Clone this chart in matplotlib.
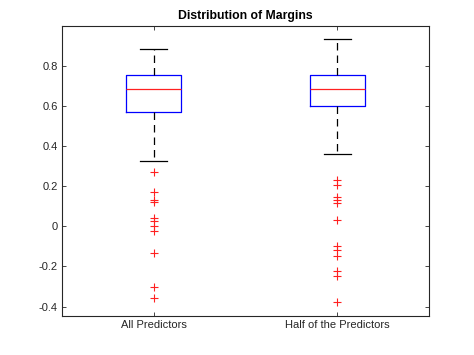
import matplotlib
matplotlib.use('Agg')
import matplotlib.pyplot as plt

# box summary values
groups = ['All Predictors', 'Half of the Predictors']
q1 = [0.571, 0.598]
med = [0.684, 0.684]
q3 = [0.757, 0.757]
whislo = [0.326, 0.359]
whishi = [0.883, 0.933]
fliers_all = [0.271, 0.171, 0.132, 0.120, 0.041, 0.029, 0.003, -0.022, -0.135, -0.300, -0.357]
fliers_half = [0.231, 0.206, 0.146, 0.132, 0.118, 0.032, -0.097, -0.117, -0.150, -0.225, -0.246, -0.379]
yticks = [-0.4, -0.2, 0, 0.2, 0.4, 0.6, 0.8]
ytick_labels = ['-0.4', '-0.2', '0', '0.2', '0.4', '0.6', '0.8']

plt.rcParams['font.family'] = ['Liberation Sans', 'DejaVu Sans']
grey = '#262626'

stats = []
for i, fl in enumerate([fliers_all, fliers_half]):
    stats.append(dict(label=groups[i], q1=q1[i], med=med[i], q3=q3[i],
                      whislo=whislo[i], whishi=whishi[i], fliers=fl))

fig = plt.figure(figsize=(4.74, 3.55), dpi=100)
ax = fig.add_axes([62/474, 1 - 315.6/355, 367/474, 289.6/355])
ax.bxp(stats, positions=[1, 2], widths=0.3, capwidths=0.145,
       boxprops=dict(color='blue', lw=0.9),
       medianprops=dict(color='#ff2020', lw=0.9),
       whiskerprops=dict(color='black', lw=0.9, ls=(0, (6, 4))),
       capprops=dict(color='black', lw=0.9),
       flierprops=dict(marker='+', markeredgecolor='#ff2020', markersize=6, mew=0.8, ls='none'))

ax.set_xlim(0.5, 2.5)
ax.set_ylim(-0.445, 0.999)
ax.set_yticks(yticks)
ax.set_yticklabels(ytick_labels)
ax.set_xticks([1, 2])
ax.set_xticklabels(groups)
ax.tick_params(direction='in', length=3, width=0.6, colors=grey, labelsize=8,
               top=True, right=True, pad=3)
for s in ax.spines.values():
    s.set_color(grey); s.set_linewidth(0.8)
ax.set_title('Distribution of Margins', fontsize=8.8, fontweight='bold', pad=5)

fig.savefig('out.png', dpi=100)
